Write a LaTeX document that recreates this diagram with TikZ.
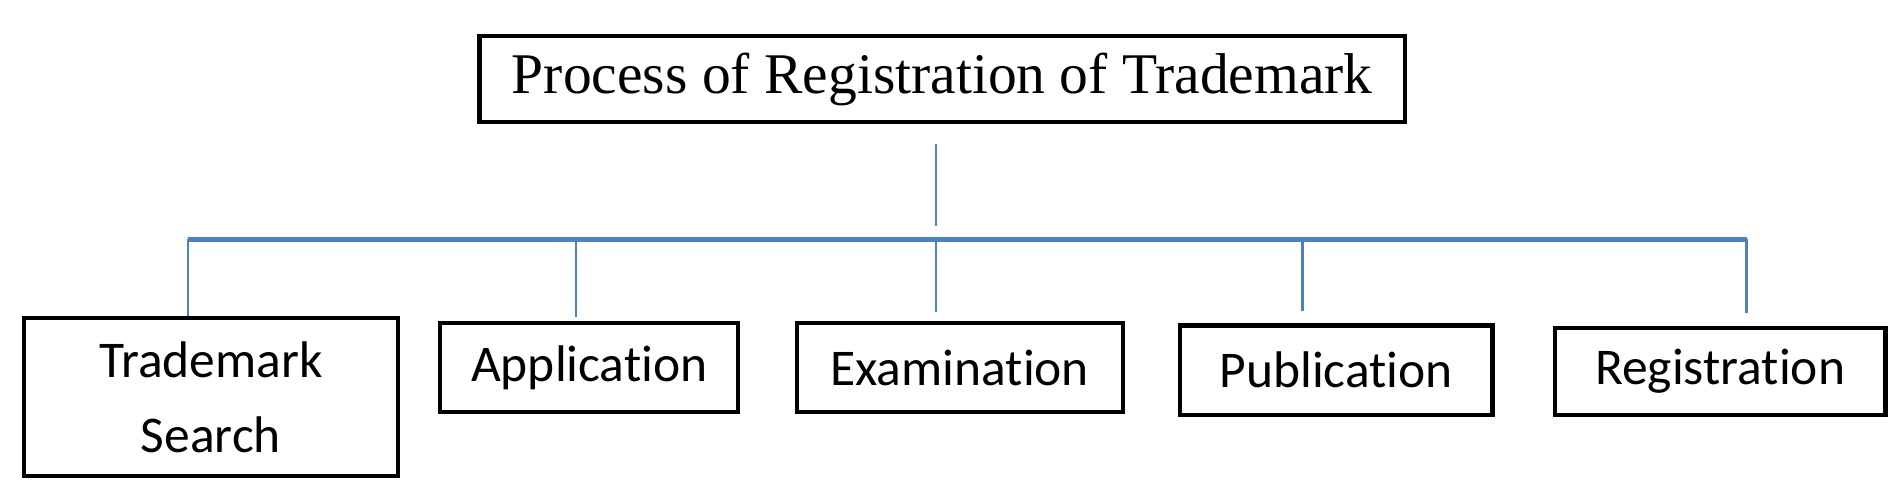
\documentclass[tikz,border=0pt]{standalone}
\usepackage{fontspec}
\setmainfont{Liberation Serif}
\newfontfamily\boxfont[Ligatures={NoCommon,NoRequired,NoContextual}]{Carlito}
\usetikzlibrary{positioning}
\definecolor{linkblue}{RGB}{79,129,189}
\tikzset{
    box/.style={
        draw, line width=1pt, anchor=north west,
        align=center, inner sep=0pt,
        font=\boxfont\fontsize{12}{17.5}\selectfont
    },
    link/.style={draw=linkblue, line width=0.6pt}
}
\begin{document}
\begin{tikzpicture}[x=0.01cm, y=-0.01cm]
\useasboundingbox (0,0) rectangle (1560,412);

% title box
\node[box, minimum width=7.58cm, minimum height=0.70cm,
      font=\fontsize{13.4}{15}\selectfont] (title) at (391,28) {Process of Registration of Trademark};

% step boxes
\node[box, minimum width=3.06cm, minimum height=1.29cm] (search) at (18,259) {Trademark\\Search};
\node[box, minimum width=2.44cm, minimum height=0.73cm] (appl) at (359,263) {Application};
\node[box, minimum width=2.67cm, minimum height=0.73cm] (exam) at (651,263) {Examination};
\node[box, minimum width=2.56cm, minimum height=0.73cm] (publ) at (965,265) {Publication};
\node[box, minimum width=2.71cm, minimum height=0.71cm] (regi) at (1272,267) {Registration};

% connectors
\coordinate (stem) at (767,118);
\coordinate (hub) at (767,185);
\coordinate (barl) at (154,196);
\coordinate (bara) at (472,196);
\coordinate (bare) at (767,196);
\coordinate (barp) at (1067,196);
\coordinate (barr) at (1431,196);

\draw[link] (stem) -- (hub);
\draw[link, line width=1.2pt] (barl) -- (barr);
\draw[link] (barl) -- (barl |- search.north);
\draw[link] (bara) -- ([yshift=1pt]bara |- appl.north);
\draw[link] (bare) -- ([yshift=2pt]bare |- exam.north);
\draw[link] (barp) -- ([yshift=3pt]barp |- publ.north);
\draw[link] (barr) -- ([yshift=3pt]barr |- regi.north);

\end{tikzpicture}
\end{document}
